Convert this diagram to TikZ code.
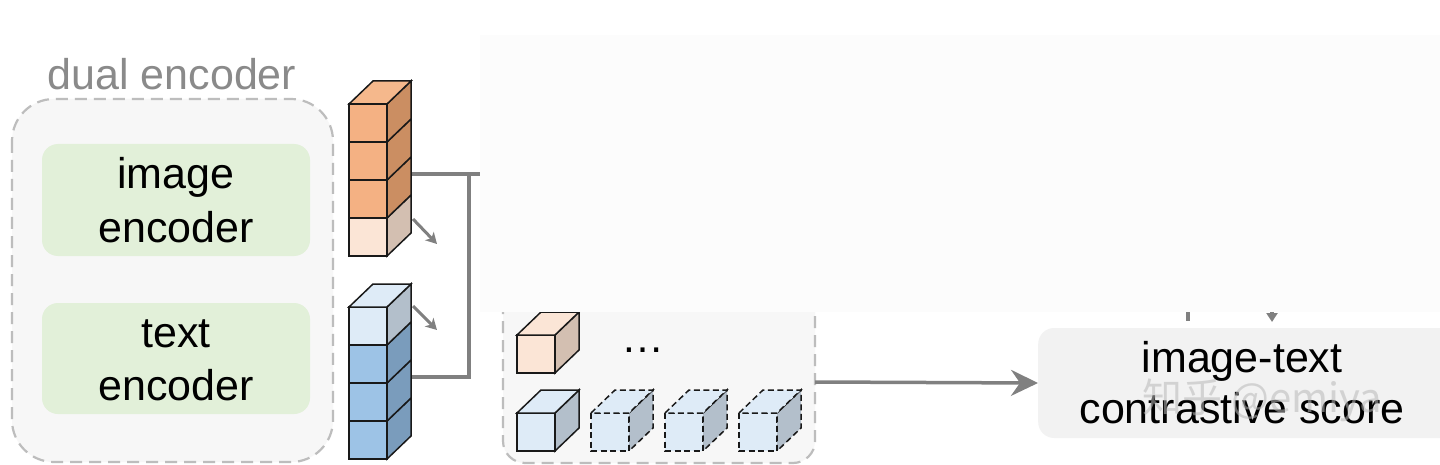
\documentclass[tikz,border=0pt]{standalone}
\usepackage{fontspec}
\setmainfont{Liberation Sans}
\newfontfamily\cjk{Noto Sans CJK SC}
\usetikzlibrary{arrows.meta}
\definecolor{dashgray}{HTML}{BDBDBD}
\definecolor{boxfill}{HTML}{F7F7F7}
\definecolor{greenfill}{HTML}{E2F0D9}
\definecolor{scorefill}{HTML}{F2F2F2}
\definecolor{conngray}{HTML}{808080}
\definecolor{labelgray}{HTML}{8A8A8A}
\definecolor{orfront}{HTML}{F4B183}
\definecolor{orside}{HTML}{CB8E62}
\definecolor{ortop}{HTML}{F5B88C}
\definecolor{pchfront}{HTML}{FBE5D6}
\definecolor{pchside}{HTML}{D3BFB1}
\definecolor{lbfront}{HTML}{DEEBF7}
\definecolor{lbside}{HTML}{B3BFCB}
\definecolor{bfront}{HTML}{9DC3E6}
\definecolor{bside}{HTML}{7A9CBC}
\definecolor{maskfill}{HTML}{FCFCFC}
\newcommand\drawcell[5]{% x, y (front top-left), front, side, style
  \filldraw[#5, fill=#3] (#1,#2) rectangle ++(38,38);
  \filldraw[#5, fill=#4] (#1+38,#2) -- ++(24,-23) -- ++(0,38) -- ++(-24,23) -- cycle;
}
\newcommand\drawtop[3]{% x, y, fill+style
  \filldraw[#3] (#1,#2) -- ++(24,-23) -- ++(38,0) -- ++(-24,23) -- cycle;
}
\tikzset{
  dashbox/.style={draw=dashgray, line width=2.2pt, dash pattern=on 12pt off 7pt, fill=boxfill},
  encbox/.style={fill=greenfill, rounded corners=16pt, inner sep=0pt},
  bigtext/.style={font=\fontsize{43}{50}\selectfont, inner sep=0pt, anchor=base},
  conn/.style={draw=conngray, line width=3.5pt},
  cubeline/.style={draw=black!90, line width=1.5pt},
  cubedash/.style={draw=black!90, line width=1.5pt, dash pattern=on 6pt off 3.5pt},
}
\begin{document}
\begin{tikzpicture}[x=1pt, y=-1pt]
\useasboundingbox (0,0) rectangle (1440,465);
\fill[white] (0,0) rectangle (1440,465);

% dual encoder box
\draw[dashbox, rounded corners=42pt] (12,99) rectangle (333,462);
\node[bigtext, text=labelgray] (duallabel) at (172,90) {dual encoder};
\node[encbox, minimum width=268pt, minimum height=112pt] (imgenc) at (176,200) {};
\node[bigtext] (imgt1) at (176,189) {image};
\node[bigtext] (imgt2) at (176,242) {encoder};
\node[encbox, minimum width=268pt, minimum height=111pt] (txtenc) at (176,358.5) {};
\node[bigtext] (txtt1) at (176,347) {text};
\node[bigtext] (txtt2) at (176,400) {encoder};

% image embedding stack
\drawcell{349}{218}{pchfront}{pchside}{cubeline}
\drawcell{349}{180}{orfront}{orside}{cubeline}
\drawcell{349}{142}{orfront}{orside}{cubeline}
\drawcell{349}{104}{orfront}{orside}{cubeline}
\drawtop{349}{104}{cubeline, fill=ortop}
% text embedding stack
\drawcell{349}{421}{bfront}{bside}{cubeline}
\drawcell{349}{383}{bfront}{bside}{cubeline}
\drawcell{349}{345}{bfront}{bside}{cubeline}
\drawcell{349}{307}{lbfront}{lbside}{cubeline}
\drawtop{349}{307}{cubeline, fill=lbfront}

\coordinate (iout) at (412,174);
\coordinate (tout) at (412,377);
\coordinate (jtop) at (469,174);
\coordinate (iend) at (500,174);
\draw[conn] (iout) -- (iend);
\draw[conn] (tout) -| (jtop);

\coordinate (a1s) at (413,219);
\coordinate (a1e) at (437,244);
\coordinate (a2s) at (413,306);
\coordinate (a2e) at (437,330);
\draw[conn, line width=3pt, -{Stealth[length=11pt, width=12pt, inset=3pt]}] (a1s) -- (a1e);
\draw[conn, line width=3pt, -{Stealth[length=11pt, width=12pt, inset=3pt]}] (a2s) -- (a2e);

% middle box
\draw[dashbox, rounded corners=22pt] (503,280) rectangle (815,463);
\drawcell{517}{335}{pchfront}{pchside}{cubeline}
\drawtop{517}{335}{cubeline, fill=pchfront}
\node[font=\fontsize{43}{50}\selectfont, inner sep=0pt, anchor=base] (dots) at (643,352) {…};
\drawcell{517}{413}{lbfront}{lbside}{cubeline}
\drawtop{517}{413}{cubeline, fill=lbfront}
\drawcell{591}{413}{lbfront}{lbside}{cubedash}
\drawtop{591}{413}{cubedash, fill=lbfront}
\drawcell{665}{413}{lbfront}{lbside}{cubedash}
\drawtop{665}{413}{cubedash, fill=lbfront}
\drawcell{739}{413}{lbfront}{lbside}{cubedash}
\drawtop{739}{413}{cubedash, fill=lbfront}

% score box
\node[fill=scorefill, rounded corners=16pt, minimum width=420pt, minimum height=110pt, inner sep=0pt, anchor=west] (score) at (1038,383) {};
\node[bigtext] (sc1) at (1242,372) {image-text};
\node[bigtext] (sc2) at (1242,423) {contrastive score};

\coordinate (mout) at (815,382);
\draw[conn, -{Stealth[length=27pt, width=26pt, inset=9pt]}] (mout) -- (score.west);

% lines running under the mask
\coordinate (h1s) at (1188,200);
\coordinate (h1e) at (1188,321);
\coordinate (h2s) at (1272,200);
\coordinate (h2e) at (1272,322);
\draw[conn] (h1s) -- (h1e);
\draw[conn, -{Triangle[length=9pt, width=11pt]}] (h2s) -- (h2e);

% mask
\fill[maskfill] (480,35) rectangle (1440,312);

% watermark
\node[font=\cjk\fontsize{40}{44}\selectfont, text=gray!55, opacity=0.55, inner sep=0pt, anchor=base west] (wm) at (1142,412) {知乎 @emiya};
\end{tikzpicture}
\end{document}
